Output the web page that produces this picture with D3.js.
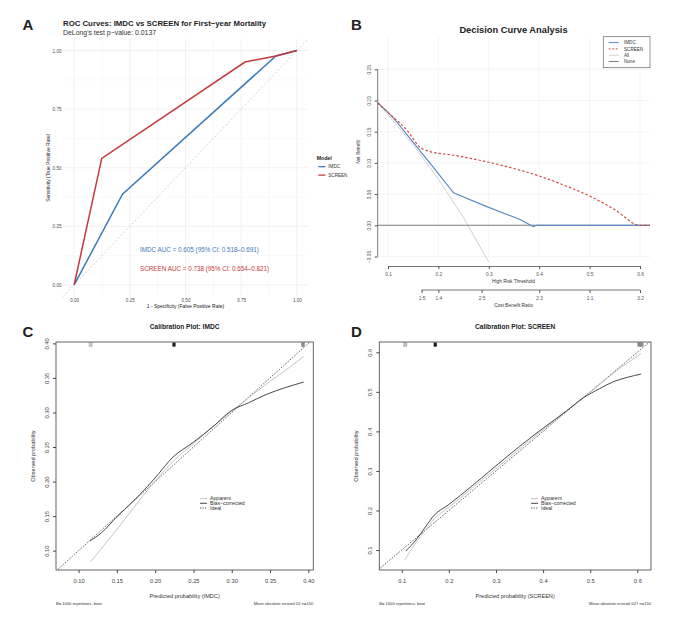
<!DOCTYPE html>
<html>
<head>
<meta charset="UTF-8">
<title>ROC, DCA and calibration</title>
<style>
body { margin: 0; background: #fff; }
svg { font-family: "Liberation Sans", Arial, sans-serif; }
</style>
</head>
<body>
<div id="chart"></div>
<script src="https://cdn.jsdelivr.net/npm/d3@7"></script>
<script>
// ---------- A: ROC ----------
var rocModels = ["IMDC", "SCREEN"];
var rocFprIMDC = [0, 0.217, 0.906, 1];
var rocTprIMDC = [0, 0.387, 0.977, 1];
var rocFprSCREEN = [0, 0.124, 0.767, 0.906, 1];
var rocTprSCREEN = [0, 0.540, 0.951, 0.977, 1];
var rocTicks = [0, 0.25, 0.5, 0.75, 1];
var rocMinor = [0.125, 0.375, 0.625, 0.875];
var aucText = ["IMDC AUC = 0.605 (95% CI: 0.518\u20130.691)", "SCREEN AUC = 0.738 (95% CI: 0.654\u20130.821)"];

// ---------- B: decision curve ----------
var dcaAllX = [0.08, 0.12, 0.16, 0.2, 0.25, 0.3];
var dcaAllY = [0.196, 0.158, 0.118, 0.074, 0.012, -0.059];
var dcaNoneX = [0.08, 0.62];
var dcaNoneY = [0, 0];
var dcaImdcX = [0.08, 0.1, 0.117, 0.15, 0.19, 0.23, 0.296, 0.36, 0.388, 0.395, 0.62];
var dcaImdcY = [0.196, 0.181, 0.166, 0.133, 0.093, 0.052, 0.030, 0.010, -0.002, 0, 0];
var dcaScreenX = [0.08, 0.1, 0.137, 0.165, 0.175, 0.24, 0.3, 0.35, 0.4, 0.45, 0.5, 0.55, 0.6, 0.62];
var dcaScreenY = [0.196, 0.181, 0.153, 0.124, 0.120, 0.111, 0.101, 0.091, 0.079, 0.064, 0.047, 0.025, 0, 0];
var dcaXTicks = [0.1, 0.2, 0.3, 0.4, 0.5, 0.6];
var dcaYTicks = [-0.05, 0, 0.05, 0.1, 0.15, 0.2, 0.25];
var cbTicks = [0.1667, 0.2, 0.2857, 0.4, 0.5, 0.6];
var cbLabels = ["1:5", "1:4", "2:5", "2:3", "1:1", "3:2"];
var dcaLegend = ["IMDC", "SCREEN", "All", "None"];

// ---------- C: calibration IMDC ----------
var calImdcTicks = [0.10, 0.15, 0.20, 0.25, 0.30, 0.35, 0.40];
var calImdcAppX = [0.1157, 0.14, 0.16, 0.1845, 0.2, 0.225, 0.25, 0.275, 0.3, 0.325, 0.35, 0.375, 0.394];
var calImdcAppY = [0.084, 0.117, 0.145, 0.180, 0.201, 0.231, 0.255, 0.279, 0.302, 0.324, 0.345, 0.365, 0.381];
var calImdcBcX = [0.1148, 0.13, 0.15, 0.17, 0.19, 0.205, 0.222, 0.25, 0.275, 0.3, 0.322, 0.345, 0.37, 0.394];
var calImdcBcY = [0.114, 0.126, 0.149, 0.170, 0.193, 0.212, 0.234, 0.257, 0.279, 0.303, 0.314, 0.326, 0.336, 0.344];
var calImdcRug = [0.1157, 0.2246, 0.393];
var calImdcRugN = [15, 100, 45];

// ---------- D: calibration SCREEN ----------
var calScreenTicksX = [0.1, 0.2, 0.3, 0.4, 0.5, 0.6];
var calScreenTicksY = [0.1, 0.2, 0.3, 0.4, 0.5, 0.6];
var calScreenAppX = [0.1067, 0.13, 0.15, 0.17, 0.2, 0.25, 0.3, 0.35, 0.4, 0.45, 0.5, 0.55, 0.608];
var calScreenAppY = [0.0755, 0.118, 0.150, 0.180, 0.208, 0.257, 0.306, 0.356, 0.404, 0.452, 0.499, 0.548, 0.597];
var calScreenBcX = [0.1085, 0.13, 0.15, 0.169, 0.2, 0.25, 0.3, 0.35, 0.4, 0.45, 0.4855, 0.52, 0.55, 0.58, 0.608];
var calScreenBcY = [0.0975, 0.125, 0.158, 0.188, 0.215, 0.263, 0.313, 0.362, 0.408, 0.452, 0.485, 0.508, 0.526, 0.537, 0.545];
var calScreenRug = [0.1077, 0.1713, 0.604, 0.609];
var calScreenRugN = [20, 100, 45, 45];

var calLegend = ["Apparent", "Bias\u2212corrected", "Ideal"];

function pts(xs, ys) {
	return xs.map(function(x, i) { return [x, ys[i]]; });
}
function styleAxis(g, size, color) {
	g.attr("font-family", null).attr("font-size", size);
	g.selectAll("text").attr("fill", color);
	g.selectAll("line").attr("stroke", color);
	g.select(".domain").attr("stroke", color);
}

var svg = d3.select("#chart").append("svg")
	.attr("width", 685)
	.attr("height", 628);

// panel letters
svg.append("text").attr("x", 22.5).attr("y", 30).text("A").attr("font-size", 15).attr("font-weight", "bold").attr("fill", "#222");
svg.append("text").attr("x", 351).attr("y", 30).text("B").attr("font-size", 15).attr("font-weight", "bold").attr("fill", "#222");
svg.append("text").attr("x", 22.5).attr("y", 336.5).text("C").attr("font-size", 15).attr("font-weight", "bold").attr("fill", "#222");
svg.append("text").attr("x", 351).attr("y", 336.5).text("D").attr("font-size", 15).attr("font-weight", "bold").attr("fill", "#222");

// ================= A =================
var blueA = "#3b7bb8", redA = "#c4393a";
var xA = d3.scaleLinear().domain([-0.05, 1.05]).range([63, 308]);
var yA = d3.scaleLinear().domain([-0.05, 1.05]).range([296.7, 38.8]);
var gA = svg.append("g");

gA.selectAll(".minx").data(rocMinor).enter().append("line")
	.attr("x1", function(d) { return xA(d); }).attr("x2", function(d) { return xA(d); })
	.attr("y1", yA(-0.05)).attr("y2", yA(1.05))
	.attr("stroke", "#f2f2f2").attr("stroke-width", 0.5);
gA.selectAll(".miny").data(rocMinor).enter().append("line")
	.attr("y1", function(d) { return yA(d); }).attr("y2", function(d) { return yA(d); })
	.attr("x1", xA(-0.05)).attr("x2", xA(1.05))
	.attr("stroke", "#f2f2f2").attr("stroke-width", 0.5);
gA.selectAll(".majx").data(rocTicks).enter().append("line")
	.attr("x1", function(d) { return xA(d); }).attr("x2", function(d) { return xA(d); })
	.attr("y1", yA(-0.05)).attr("y2", yA(1.05))
	.attr("stroke", "#ebebeb").attr("stroke-width", 0.7);
gA.selectAll(".majy").data(rocTicks).enter().append("line")
	.attr("y1", function(d) { return yA(d); }).attr("y2", function(d) { return yA(d); })
	.attr("x1", xA(-0.05)).attr("x2", xA(1.05))
	.attr("stroke", "#ebebeb").attr("stroke-width", 0.7);

gA.append("g").attr("transform", "translate(63,0)")
	.call(d3.axisLeft(yA).tickValues(rocTicks).tickSize(0).tickPadding(1.5).tickFormat(d3.format(".2f")))
	.call(function(g) { g.select(".domain").remove(); styleAxis(g, 4.6, "#4d4d4d"); });
gA.append("g").attr("transform", "translate(0,296.7)")
	.call(d3.axisBottom(xA).tickValues(rocTicks).tickSize(0).tickPadding(2.2).tickFormat(d3.format(".2f")))
	.call(function(g) { g.select(".domain").remove(); styleAxis(g, 4.6, "#4d4d4d"); });

// chance line
gA.append("line")
	.attr("x1", xA(-0.05)).attr("y1", yA(-0.05)).attr("x2", xA(1.05)).attr("y2", yA(1.05))
	.attr("stroke", "#bdbdbd").attr("stroke-width", 0.7).attr("stroke-dasharray", "2,2");

var lineA = d3.line().x(function(d) { return xA(d[0]); }).y(function(d) { return yA(d[1]); });
gA.append("path").attr("d", lineA(pts(rocFprIMDC, rocTprIMDC)))
	.attr("fill", "none").attr("stroke", blueA).attr("stroke-width", 1.5);
gA.append("path").attr("d", lineA(pts(rocFprSCREEN, rocTprSCREEN)))
	.attr("fill", "none").attr("stroke", redA).attr("stroke-width", 1.5);

gA.append("text").attr("x", xA(0.296)).attr("y", yA(0.149)).attr("dy", "0.35em")
	.attr("font-size", 6.3).attr("fill", blueA).text(aucText[0]);
gA.append("text").attr("x", xA(0.296)).attr("y", yA(0.068)).attr("dy", "0.35em")
	.attr("font-size", 6.3).attr("fill", redA).text(aucText[1]);

gA.append("text").attr("x", 63).attr("y", 25.7)
	.attr("font-size", 7.8).attr("font-weight", "bold").attr("fill", "#222")
	.text("ROC Curves: IMDC vs SCREEN for First\u2212year Mortality");
gA.append("text").attr("x", 63).attr("y", 35.3)
	.attr("font-size", 6.9).attr("fill", "#333")
	.text("DeLong's test p\u2212value: 0.0137");
gA.append("text").attr("x", xA(0.5)).attr("y", 307.5).attr("text-anchor", "middle")
	.attr("font-size", 5).attr("fill", "#222").text("1 - Specificity (False Positive Rate)");
gA.append("text").attr("transform", "translate(49.5," + yA(0.5) + ") rotate(-90)").attr("text-anchor", "middle")
	.attr("font-size", 5).attr("fill", "#222").text("Sensitivity (True Positive Rate)");

var legA = gA.append("g");
legA.append("text").attr("x", 316.7).attr("y", 160).attr("font-size", 5.2).attr("font-weight", "bold").attr("fill", "#222").text("Model");
rocModels.forEach(function(m, i) {
	var yy = 166.7 + i * 8.4;
	legA.append("line").attr("x1", 318.3).attr("x2", 325.5).attr("y1", yy).attr("y2", yy)
		.attr("stroke", i === 0 ? blueA : redA).attr("stroke-width", 1.3);
	legA.append("text").attr("x", 328.3).attr("y", yy).attr("dy", "0.35em")
		.attr("font-size", 4.6).attr("fill", "#333").text(m);
});

// ================= B =================
var blueB = "#5a8cc4", redB = "#d24b43";
var xB = d3.scaleLinear().domain([0.1, 0.6]).range([388, 640]);
var yB = d3.scaleLinear().domain([0, 0.25]).range([225.3, 69.3]);
var gB = svg.append("g");

gB.append("text").attr("x", 513.5).attr("y", 33.3).attr("text-anchor", "middle")
	.attr("font-size", 9.3).attr("font-weight", "bold").attr("fill", "#222").text("Decision Curve Analysis");

gB.selectAll(".gx").data(dcaXTicks).enter().append("line")
	.attr("x1", function(d) { return xB(d); }).attr("x2", function(d) { return xB(d); })
	.attr("y1", 36.5).attr("y2", 258)
	.attr("stroke", "#efefef").attr("stroke-width", 0.6);
gB.selectAll(".gy").data(dcaYTicks).enter().append("line")
	.attr("y1", function(d) { return yB(d); }).attr("y2", function(d) { return yB(d); })
	.attr("x1", 377.7).attr("x2", 650)
	.attr("stroke", "#efefef").attr("stroke-width", 0.6);

var clipB = gB.append("clipPath").attr("id", "clipB");
clipB.append("rect").attr("x", 377.7).attr("y", 36).attr("width", 272.3).attr("height", 228);
var lineB = d3.line().x(function(d) { return xB(d[0]); }).y(function(d) { return yB(d[1]); });
var curvesB = gB.append("g").attr("clip-path", "url(#clipB)");
curvesB.append("path").attr("d", lineB(pts(dcaAllX, dcaAllY)))
	.attr("fill", "none").attr("stroke", "#cfcfcf").attr("stroke-width", 1);
curvesB.append("path").attr("d", lineB(pts(dcaNoneX, dcaNoneY)))
	.attr("fill", "none").attr("stroke", "#7f7f7f").attr("stroke-width", 1.1);
curvesB.append("path").attr("d", lineB(pts(dcaImdcX, dcaImdcY)))
	.attr("fill", "none").attr("stroke", blueB).attr("stroke-width", 1.2);
curvesB.append("path").attr("d", lineB.curve(d3.curveMonotoneX)(pts(dcaScreenX, dcaScreenY)))
	.attr("fill", "none").attr("stroke", redB).attr("stroke-width", 1.2).attr("stroke-dasharray", "2.5,2");

// y axis
gB.append("g").attr("transform", "translate(377.7,0)")
	.call(d3.axisLeft(yB).tickValues(dcaYTicks).tickSize(3).tickFormat(d3.format(".2f")))
	.call(function(g) {
		g.select(".domain").remove();
		styleAxis(g, 4.8, "#555");
		g.selectAll("text").attr("x", 0).attr("y", -6.9).attr("dy", 0)
			.attr("text-anchor", "middle").attr("transform", "rotate(-90)");
	});
gB.append("line").attr("x1", 377.7).attr("x2", 377.7).attr("y1", yB(-0.05)).attr("y2", yB(0.25))
	.attr("stroke", "#555").attr("stroke-width", 0.8);
gB.append("text").attr("transform", "translate(359.5,152) rotate(-90)").attr("text-anchor", "middle")
	.attr("font-size", 4.8).attr("fill", "#333").text("Net Benefit");

// threshold axis
gB.append("g").attr("transform", "translate(0,266)")
	.call(d3.axisBottom(xB).tickValues(dcaXTicks).tickSize(3).tickSizeOuter(0).tickPadding(4).tickFormat(d3.format(".1f")))
	.call(function(g) { styleAxis(g, 4.8, "#555"); g.select(".domain").attr("stroke-width", 0.8); });
gB.append("text").attr("x", 513.5).attr("y", 283.4).attr("text-anchor", "middle")
	.attr("font-size", 4.8).attr("fill", "#333").text("High Risk Threshold");

// cost:benefit axis
gB.append("g").attr("transform", "translate(0,290)")
	.call(d3.axisBottom(xB).tickValues(cbTicks).tickSize(3).tickPadding(4)
		.tickFormat(function(d, i) { return cbLabels[i]; }))
	.call(function(g) { g.select(".domain").remove(); styleAxis(g, 4.8, "#555"); });
gB.append("line").attr("x1", xB(cbTicks[0])).attr("x2", xB(cbTicks[cbTicks.length - 1]))
	.attr("y1", 290).attr("y2", 290).attr("stroke", "#555").attr("stroke-width", 0.8);
gB.append("text").attr("x", 513.5).attr("y", 307.4).attr("text-anchor", "middle")
	.attr("font-size", 4.8).attr("fill", "#333").text("Cost:Benefit Ratio");

// legend
var legB = gB.append("g");
legB.append("rect").attr("x", 603.3).attr("y", 36.7).attr("width", 46.7).attr("height", 31)
	.attr("fill", "#fff").attr("stroke", "#666").attr("stroke-width", 0.7);
var legBStroke = [blueB, redB, "#cfcfcf", "#7f7f7f"];
dcaLegend.forEach(function(name, i) {
	var yy = 42.6 + i * 6.3;
	legB.append("line").attr("x1", 608.7).attr("x2", 618.7).attr("y1", yy).attr("y2", yy)
		.attr("stroke", legBStroke[i]).attr("stroke-width", 1)
		.attr("stroke-dasharray", i === 1 ? "2,1.5" : null);
	legB.append("text").attr("x", 624).attr("y", yy).attr("dy", "0.35em")
		.attr("font-size", 4.6).attr("fill", "#333").text(name);
});

// ================= C & D =================
function calibrationPanel(cfg) {
	var g = svg.append("g");
	var x = d3.scaleLinear().domain(cfg.xDomain).range([cfg.left, cfg.right]);
	var y = d3.scaleLinear().domain(cfg.yDomain).range([cfg.bottom, cfg.top]);
	var id = "clip" + cfg.key;

	g.append("text").attr("x", (cfg.left + cfg.right) / 2).attr("y", 329.3).attr("text-anchor", "middle")
		.attr("font-size", 6.6).attr("font-weight", "bold").attr("fill", "#222").text(cfg.title);

	g.append("clipPath").attr("id", id).append("rect")
		.attr("x", cfg.left).attr("y", cfg.top).attr("width", cfg.right - cfg.left).attr("height", cfg.bottom - cfg.top);
	var body = g.append("g").attr("clip-path", "url(#" + id + ")");
	var line = d3.line().curve(d3.curveMonotoneX)
		.x(function(d) { return x(d[0]); }).y(function(d) { return y(d[1]); });

	var lo = Math.min(cfg.xDomain[0], cfg.yDomain[0]), hi = Math.max(cfg.xDomain[1], cfg.yDomain[1]);
	body.append("line").attr("x1", x(lo)).attr("y1", y(lo)).attr("x2", x(hi)).attr("y2", y(hi))
		.attr("stroke", "#444").attr("stroke-width", 0.8).attr("stroke-dasharray", "1.6,1.4");
	body.append("path").attr("d", line(pts(cfg.appX, cfg.appY)))
		.attr("fill", "none").attr("stroke", "#bdbdbd").attr("stroke-width", 0.9);
	body.append("path").attr("d", line(pts(cfg.bcX, cfg.bcY)))
		.attr("fill", "none").attr("stroke", "#333").attr("stroke-width", 0.9);

	var shade = d3.scaleLinear().domain([0, d3.max(cfg.rugN)]).range(["#e8e8e8", "#1a1a1a"]);
	body.selectAll(".rug").data(cfg.rug).enter().append("rect")
		.attr("x", function(d) { return x(d) - 1.6; }).attr("y", cfg.top + 0.6)
		.attr("width", 3.2).attr("height", 4)
		.attr("fill", function(d, i) { return shade(cfg.rugN[i]); })
		.attr("stroke", "#888").attr("stroke-width", 0.3);

	g.append("rect").attr("x", cfg.left).attr("y", cfg.top)
		.attr("width", cfg.right - cfg.left).attr("height", cfg.bottom - cfg.top)
		.attr("fill", "none").attr("stroke", "#555").attr("stroke-width", 0.9);

	g.append("g").attr("transform", "translate(" + cfg.left + ",0)")
		.call(d3.axisLeft(y).tickValues(cfg.yTicks).tickSize(3).tickFormat(d3.format(cfg.fmt)))
		.call(function(a) {
			a.select(".domain").remove();
			styleAxis(a, 5.8, "#444");
			a.selectAll("text").attr("x", 0).attr("y", -7.3).attr("dy", 0)
				.attr("text-anchor", "middle").attr("transform", "rotate(-90)");
		});
	g.append("g").attr("transform", "translate(0," + cfg.bottom + ")")
		.call(d3.axisBottom(x).tickValues(cfg.xTicks).tickSize(3).tickPadding(6.3).tickFormat(d3.format(cfg.fmt)))
		.call(function(a) { a.select(".domain").remove(); styleAxis(a, 5.8, "#444"); });

	g.append("text").attr("x", (cfg.left + cfg.right) / 2).attr("y", 598).attr("text-anchor", "middle")
		.attr("font-size", 5.6).attr("fill", "#333").text(cfg.xLabel);
	g.append("text").attr("transform", "translate(" + (cfg.left - 21) + "," + ((cfg.top + cfg.bottom) / 2) + ") rotate(-90)")
		.attr("text-anchor", "middle").attr("font-size", 5.6).attr("fill", "#333").text("Observed probability");
	g.append("text").attr("x", cfg.left).attr("y", 605).attr("font-size", 4.1).attr("fill", "#333")
		.text("B= 1000 repetitions, boot");
	g.append("text").attr("x", cfg.right).attr("y", 605).attr("text-anchor", "end").attr("font-size", 4.1).attr("fill", "#333")
		.text(cfg.note);

	// legend (tightly stacked, like the R legend)
	var legStroke = ["#bdbdbd", "#333", "#444"];
	calLegend.forEach(function(name, i) {
		var yy = 498.6 + i * 4.7;
		g.append("line").attr("x1", cfg.legX).attr("x2", cfg.legX + 7).attr("y1", yy).attr("y2", yy)
			.attr("stroke", legStroke[i]).attr("stroke-width", 0.9)
			.attr("stroke-dasharray", i === 2 ? "1.3,1.2" : null);
		g.append("text").attr("x", cfg.legX + 10).attr("y", yy).attr("dy", "0.35em")
			.attr("font-size", 5.2).attr("fill", "#333").text(name);
	});
}

calibrationPanel({
	key: "C", title: "Calibration Plot: IMDC",
	left: 56, right: 313.3, top: 342, bottom: 570,
	xDomain: [0.0705, 0.4065], yDomain: [0.072, 0.402],
	xTicks: calImdcTicks, yTicks: calImdcTicks, fmt: ".2f",
	appX: calImdcAppX, appY: calImdcAppY, bcX: calImdcBcX, bcY: calImdcBcY,
	rug: calImdcRug, rugN: calImdcRugN,
	xLabel: "Predicted probability (IMDC)",
	note: "Mean absolute error=0.02 n=150",
	legX: 200
});
calibrationPanel({
	key: "D", title: "Calibration Plot: SCREEN",
	left: 379.3, right: 651, top: 342, bottom: 570,
	xDomain: [0.0524, 0.629], yDomain: [0.0495, 0.626],
	xTicks: calScreenTicksX, yTicks: calScreenTicksY, fmt: ".1f",
	appX: calScreenAppX, appY: calScreenAppY, bcX: calScreenBcX, bcY: calScreenBcY,
	rug: calScreenRug, rugN: calScreenRugN,
	xLabel: "Predicted probability (SCREEN)",
	note: "Mean absolute error=0.027 n=150",
	legX: 531
});
</script>
</body>
</html>
